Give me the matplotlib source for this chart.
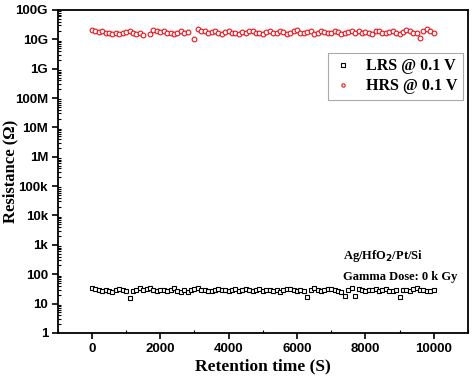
import numpy as np
import matplotlib
matplotlib.use("Agg")
import matplotlib.pyplot as plt
from matplotlib.ticker import FixedLocator, LogLocator, MultipleLocator, NullFormatter

nan = np.nan

# retention time (s), one read every 100 s
time_s = np.arange(0, 10001, 100)

# HRS read at 0.1 V, in units of 1e9 ohm
hrs_g = [21, 19, 18, 20, 17, 16, 15, 17, 15, 16,
         18, 19, 17, 15, 16, 14, nan, 15, 21, 19,
         18, 20, 17, 16, 15, 17, 19, 16, 18, nan,
         10.5, 22, 20, 19, 17, 18, 20, 16, 15, 18,
         19, 16, 17, 15, 18, 17, 19, 20, 17, 16,
         15, 18, 19, 17, 16, 20, 18, 15, 17, 19,
         21, 17, 16, 18, 19, 15, 17, 20, 18, 16,
         17, 19, 18, 15, 16, 18, 20, 17, 19, 16,
         18, 17, 15, 19, 20, 17, 16, 18, 19, 17,
         15, 18, 21, 19, 17, 16, 11, 20, 22, 19,
         17]

# LRS read at 0.1 V, ohm
lrs = [33, 31, 29, 27, 30, 26, 24, 29, 32, 28,
       27, 16, 26, 30, 33, 29, 31, 34, 30, 27,
       28, 30, 26, 29, 33, 27, 25, 28, 24, 29,
       31, 33, 30, 28, 27, 26, 29, 32, 30, 28,
       27, 29, 31, 26, 28, 32, 30, 27, 29, 31,
       26, 28, 30, 27, 29, 25, 28, 31, 32, 30,
       27, 29, 26, 17, 30, 33, 28, 26, 29, 31,
       32, 30, 27, 25, 18, 29, 33, 18, 31, 28,
       27, 30, 29, 32, 26, 28, 31, 27, 26, 29,
       17, 30, 28, 27, 31, 33, 30, 28, 27, 26,
       28]

ytick_vals = [1, 10, 100, 1e3, 1e4, 1e5, 1e6, 1e7, 1e8, 1e9, 1e10, 1e11]
ytick_labels = ["1", "10", "100", "1k", "10k", "100k", "1M", "10M", "100M", "1G", "10G", "100G"]

hrs = np.array(hrs_g) * 1e9

fig = plt.figure(figsize=(4.74, 3.84), dpi=100)
ax = fig.add_axes([0.122, 0.133, 0.865, 0.841])

ax.plot(time_s, lrs, ls="none", marker="s", ms=3.2, mfc="white", mec="black",
        mew=0.8, label="LRS @ 0.1 V")
ax.plot(time_s, hrs, ls="none", marker="o", ms=3.4, mfc="white", mec="#e8141c",
        mew=0.8, label="HRS @ 0.1 V")

ax.set_yscale("log")
ax.set_ylim(1, 1e11)
ax.set_xlim(-1000, 11000)

ax.yaxis.set_major_locator(FixedLocator(ytick_vals))
ax.set_yticklabels(ytick_labels)
ax.yaxis.set_minor_locator(LogLocator(base=10, subs=np.arange(2, 10), numticks=20))
ax.yaxis.set_minor_formatter(NullFormatter())
ax.xaxis.set_major_locator(MultipleLocator(2000))
ax.xaxis.set_minor_locator(MultipleLocator(1000))

for lab in ax.get_xticklabels() + ax.get_yticklabels():
    lab.set_fontfamily("Liberation Sans")
    lab.set_fontweight("bold")
    lab.set_fontsize(9.5)

ax.tick_params(which="major", direction="out", length=4, width=1.2, pad=3)
ax.tick_params(which="minor", direction="in", length=2.5, width=0.8)
for sp in ax.spines.values():
    sp.set_linewidth(1.3)

ax.set_xlabel("Retention time (S)", fontfamily="Liberation Serif", fontweight="bold",
              fontsize=12.5, labelpad=3)
ax.set_ylabel("Resistance (\u03a9)", fontfamily="Liberation Serif", fontweight="bold",
              fontsize=12)
ax.yaxis.set_label_coords(-0.097, 0.5)

leg = ax.legend(loc="upper right", bbox_to_anchor=(0.987, 0.868), borderaxespad=0,
                prop={"family": "Liberation Serif", "weight": "bold", "size": 11.5},
                handlelength=1.2, handletextpad=0.8, borderpad=0.35,
                labelspacing=0.25, fancybox=False, framealpha=1, markerscale=0.7)
leg.get_frame().set_edgecolor("#aaaaaa")
leg.get_frame().set_linewidth(0.8)

ax.text(0.695, 0.228, "Ag/HfO$_\\mathbf{2}$/Pt/Si", transform=ax.transAxes,
        fontfamily="Liberation Serif", fontweight="bold", fontsize=9)
ax.text(0.695, 0.165, "Gamma Dose: 0 k Gy", transform=ax.transAxes,
        fontfamily="Liberation Serif", fontweight="bold", fontsize=9)

fig.savefig("out.png", dpi=100)
